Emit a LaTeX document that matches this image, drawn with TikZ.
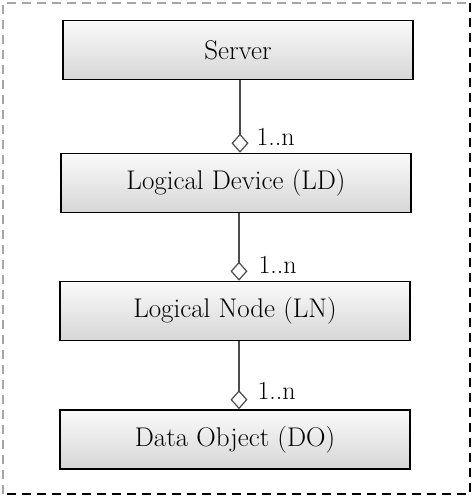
\documentclass[tikz,border=0pt]{standalone}
\usepackage{fontspec}
\usetikzlibrary{arrows.meta}
\begin{document}
\begin{tikzpicture}[x=1pt,y=-1pt,
  classbox/.style={draw=black, line width=1.6pt, top color=gray!4, bottom color=gray!32,
    minimum width=350pt, minimum height=59pt, inner sep=0pt, font=\fontsize{27}{30}\selectfont},
  aggr/.style={draw=black!70, line width=1.2pt,
    {Diamond[open, width=17pt, length=19pt, line width=1.2pt]}-},
  mult/.style={font=\fontsize{26}{29}\selectfont, anchor=west},
  frameA/.style={draw=gray!70, line width=1.8pt, dash pattern=on 9pt off 6pt},
  frameB/.style={draw=black, line width=1.8pt, dash pattern=on 9pt off 6pt}]
\useasboundingbox (0,0) rectangle (474,499);
\coordinate (tl) at (3,3);
\coordinate (tr) at (470,3);
\coordinate (br) at (470,494);
\coordinate (bl) at (3,494);
\draw[frameA] (bl) -- (tl) -- (tr);
\draw[frameB] (tr) -- (br) -- (bl);
\node[classbox] (srv) at (238,50) {Server};
\node[classbox] (ld) at (236,183) {Logical Device (LD)};
\node[classbox] (ln) at (235,311) {Logical Node (LN)};
\node[classbox] (do) at (235,439.5) {Data Object (DO)};
\draw[aggr] (ld.north -| 240,0) -- (srv.south -| 240,0);
\draw[aggr] (ln.north -| 239,0) -- (ld.south -| 239,0);
\draw[aggr] (do.north -| 239,0) -- (ln.south -| 239,0);
\node[mult] (m1) at (253,137) {1..n};
\node[mult] (m2) at (255,265) {1..n};
\node[mult] (m3) at (254,391) {1..n};
\end{tikzpicture}
\end{document}
